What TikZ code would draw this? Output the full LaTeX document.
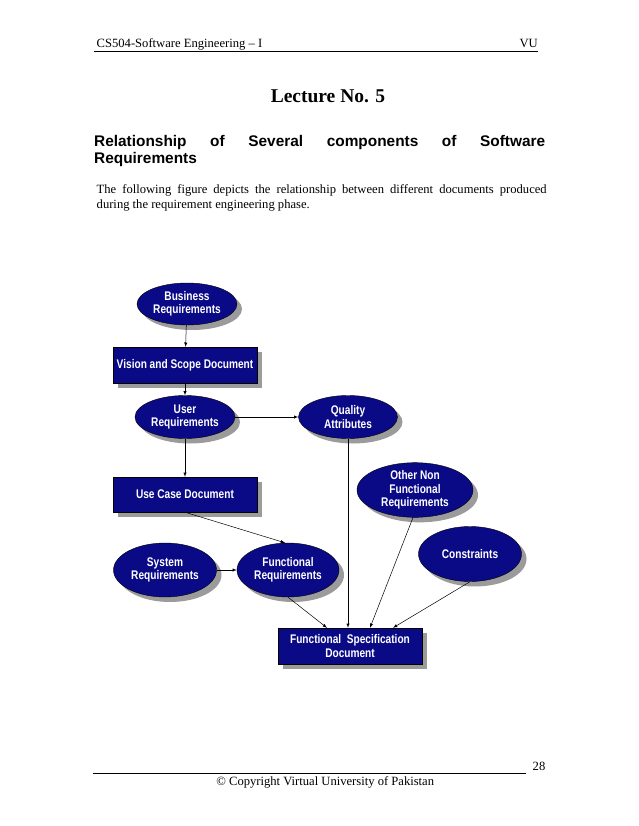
\documentclass[tikz,border=0pt]{standalone}
\usepackage{fontspec}
\setmainfont{Liberation Serif}
\newfontfamily\headfont{Liberation Sans}
\newfontfamily\boxfont[FakeStretch=0.81]{Liberation Sans}
\usetikzlibrary{shapes.geometric, shadows}
\definecolor{navy_blue}		{RGB}{10,10,135}
\definecolor{shadow_gray}	{RGB}{155,155,155}
\newcommand{\txtsize}		{ \fontsize{12.6}{14}\selectfont }

\begin{document}
\begin{tikzpicture}[x = 1pt, y = -1pt,
		blockE/.style   = {draw = black,
			ellipse,
			align          = center,
			fill           = navy_blue,
			text           = white,
			inner sep      = 0pt,
			font = \boxfont\bfseries\fontsize{12.5}{13.5}\selectfont,
			line width     = 0.4pt,
			drop shadow    = {shadow xshift = 5pt, shadow yshift = -5pt,
				fill = shadow_gray, opacity = 1}},
		blockD/.style   = {draw = black,
			rectangle,
			align          = center,
			fill           = navy_blue,
			text           = white,
			inner sep      = 0pt,
			minimum width  = 144pt,
			minimum height = 36pt,
			font = \boxfont\bfseries\fontsize{12.5}{13.5}\selectfont,
			line width     = 0.4pt,
			drop shadow    = {shadow xshift = 5pt, shadow yshift = -5pt,
				fill = shadow_gray, opacity = 1}},
		txt/.style      = {inner sep = 0pt, font = \txtsize}]
		
		\path[fill = white] (0,0) rectangle (638,826);
		
		% page header
		\node[txt, anchor = base west] (hleft) at (94,48) {CS504-Software Engineering -- I};
		\node[txt, anchor = base east] (hright) at (538,48) {VU};
		\draw[line width = 0.7pt] (94,51) -- (538,51);
		
		\node[inner sep = 0pt, anchor = base, font = \bfseries\fontsize{19.5}{22}\selectfont] (title) at (328,103) {Lecture No. 5};
		
		\node[inner sep = 0pt, anchor = base west, font = \headfont\bfseries\fontsize{15.4}{17}\selectfont] (head1) at (94,147)
		{\makebox[451pt][s]{Relationship of Several components of Software}};
		\node[inner sep = 0pt, anchor = base west, font = \headfont\bfseries\fontsize{15.4}{17}\selectfont] (head2) at (94,164)
		{Requirements};
		
		\node[txt, anchor = base west] (par1) at (94,194)
		{\makebox[450pt][s]{The following figure depicts the relationship between different documents produced}};
		\node[txt, anchor = base west] (par2) at (94,208)
		{during the requirement engineering phase.};
		
		% diagram
		\node[blockE, minimum width = 100pt, minimum height = 42pt] (Biz) at (187,304) {Business\\Requirements};
		\node[blockD] (Vision) at (185,365) {Vision and Scope Document};
		\node[blockE, minimum width = 100pt, minimum height = 43pt] (User) at (185,417) {User\\Requirements};
		\node[blockE, minimum width = 99pt, minimum height = 43pt] (Quality) at (348,417) {Quality\\Attributes};
		\node[blockD, minimum height = 35pt] (UseCase) at (185,494.5) {Use Case Document};
		\node[blockE, minimum width = 116pt, minimum height = 49pt] (OtherNF) at (415,490) {Other Non\\Functional\\Requirements};
		\node[blockE, minimum width = 103pt, minimum height = 55pt] (Constr) at (470,554) {Constraints};
		\node[blockE, minimum width = 103pt, minimum height = 54pt] (SysReq) at (165,570) {System\\Requirements};
		\node[blockE, minimum width = 102pt, minimum height = 54pt] (FuncReq) at (288,570) {Functional\\Requirements};
		\node[blockD] (FSD) at (350,646) {Functional~~Specification\\Document};
		
		\path[-latex, line width = 0.5pt] (Biz) edge (Vision);
		\path[-latex, line width = 0.5pt] (Vision) edge (User);
		\path[-latex, line width = 0.5pt] (User) edge (UseCase);
		\path[-latex, line width = 0.5pt] (User) edge (Quality);
		\path[-latex, line width = 0.5pt] (UseCase.south) edge ([xshift=-3pt]FuncReq.north);
		\path[-latex, line width = 0.5pt] (SysReq) edge (FuncReq);
		\path[-latex, line width = 0.5pt] (FuncReq.south) edge ([xshift=-23pt]FSD.north);
		\path[-latex, line width = 0.5pt] (Quality.south) edge ([xshift=-2pt]FSD.north);
		\path[-latex, line width = 0.5pt] ([xshift=-2pt]OtherNF.south) edge ([xshift=20pt]FSD.north);
		\path[-latex, line width = 0.5pt] (Constr.south) edge ([xshift=43pt]FSD.north);
		
		% page footer
		\draw[line width = 0.7pt] (93,773) -- (526,773);
		\node[txt, anchor = base west] (pagenum) at (530,770) {28};
		\node[txt, anchor = base] (copy) at (324,785) {\textcopyright{} Copyright Virtual University of Pakistan};
		
	\end{tikzpicture}
\end{document}
